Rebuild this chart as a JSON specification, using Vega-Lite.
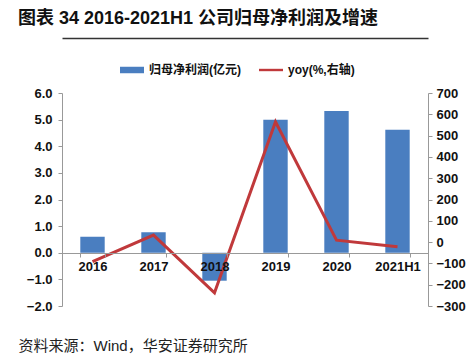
{
  "$schema": "https://vega.github.io/schema/vega-lite/v6.json",
  "width": 366,
  "height": 213,
  "autosize": "none",
  "padding": {"left": 62, "top": 93, "right": 46, "bottom": 57},
  "background": "white",
  "config": {
    "view": {"stroke": null},
    "font": "Liberation Sans, Noto Sans CJK SC"
  },
  "title": {
    "text": "图表 34 2016-2021H1 公司归母净利润及增速",
    "anchor": "start",
    "frame": "group",
    "dx": -44,
    "fontSize": 18,
    "fontWeight": "bold",
    "font": "Liberation Sans, Noto Sans CJK SC",
    "color": "#111111",
    "offset": 10
  },
  "data": {
    "values": [
      {"period": "2016", "profit": 0.6, "yoy": -92},
      {"period": "2017", "profit": 0.77, "yoy": 33},
      {"period": "2018", "profit": -1.05, "yoy": -238},
      {"period": "2019", "profit": 5.0, "yoy": 565},
      {"period": "2020", "profit": 5.32, "yoy": 9},
      {"period": "2021H1", "profit": 4.62, "yoy": -22}
    ]
  },
  "layer": [
    {
      "mark": {"type": "bar"},
      "encoding": {
        "x": {
          "field": "period",
          "type": "nominal",
          "sort": null,
          "scale": {"paddingInner": 0.6, "paddingOuter": 0.3},
          "axis": {
            "orient": "bottom",
            "offset": -53,
            "labelAngle": 0,
            "domain": true,
            "domainColor": "#999999",
            "domainWidth": 1,
            "ticks": true,
            "tickBand": "extent",
            "tickColor": "#999999",
            "tickSize": 4,
            "labelPadding": 3,
            "labelFontSize": 13,
            "labelFontWeight": "bold",
            "labelColor": "#111111",
            "zindex": 1,
            "title": "资料来源：Wind，华安证券研究所",
            "titleX": -44,
            "titleY": 92,
            "titleAlign": "left",
            "titleBaseline": "middle",
            "titleFontSize": 15,
            "titleFontWeight": "normal",
            "titleColor": "#222222",
            "titleFont": "Liberation Sans, Noto Sans CJK SC"
          }
        },
        "y": {
          "field": "profit",
          "type": "quantitative",
          "scale": {"domain": [-2, 6], "nice": false, "zero": false},
          "axis": {
            "orient": "left",
            "title": null,
            "values": [-2, -1, 0, 1, 2, 3, 4, 5, 6],
            "format": ".1f",
            "labelOverlap": false,
            "grid": false,
            "domainColor": "#999999",
            "tickColor": "#999999",
            "tickSize": 4,
            "labelPadding": 6,
            "labelFontSize": 13,
            "labelFontWeight": "bold",
            "labelColor": "#111111"
          }
        },
        "color": {
          "datum": "归母净利润(亿元)",
          "type": "nominal",
          "scale": {
            "domain": ["归母净利润(亿元)", "yoy(%,右轴)"],
            "range": ["#4A7EC0", "#C0393B"]
          },
          "legend": {
            "orient": "none",
            "legendX": 58,
            "legendY": -35,
            "direction": "horizontal",
            "title": null,
            "symbolSize": 576,
            "labelFontSize": 12,
            "labelFontWeight": "bold",
            "labelColor": "#111111",
            "labelOffset": 5,
            "columnPadding": 18,
            "encode": {
              "symbols": {
                "update": {
                  "shape": {"signal": "datum.value === 'yoy(%,右轴)' ? 'M-1,-0.1H1V0.1H-1Z' : 'M-1,-0.27H1V0.27H-1Z'"},
                  "fill": {"scale": "color", "field": "value"},
                  "stroke": {"value": "transparent"},
                  "strokeWidth": {"value": 0}
                }
              }
            }
          }
        }
      }
    },
    {
      "mark": {"type": "line", "strokeWidth": 3},
      "encoding": {
        "x": {
          "field": "period",
          "type": "nominal",
          "sort": null,
          "axis": {
            "orient": "top",
            "offset": 55,
            "labels": false,
            "ticks": false,
            "title": null,
            "domain": true,
            "domainColor": "#333333",
            "domainWidth": 1.5
          }
        },
        "y": {
          "field": "yoy",
          "type": "quantitative",
          "scale": {"domain": [-300, 700], "nice": false, "zero": false},
          "axis": {
            "orient": "right",
            "title": null,
            "values": [-300, -200, -100, 0, 100, 200, 300, 400, 500, 600, 700],
            "format": "d",
            "labelOverlap": false,
            "grid": false,
            "domainColor": "#999999",
            "tickColor": "#999999",
            "tickSize": 4,
            "labelPadding": 4,
            "labelFontSize": 13,
            "labelFontWeight": "bold",
            "labelColor": "#111111"
          }
        },
        "color": {"datum": "yoy(%,右轴)", "type": "nominal"}
      }
    }
  ],
  "resolve": {"scale": {"y": "independent"}}
}
